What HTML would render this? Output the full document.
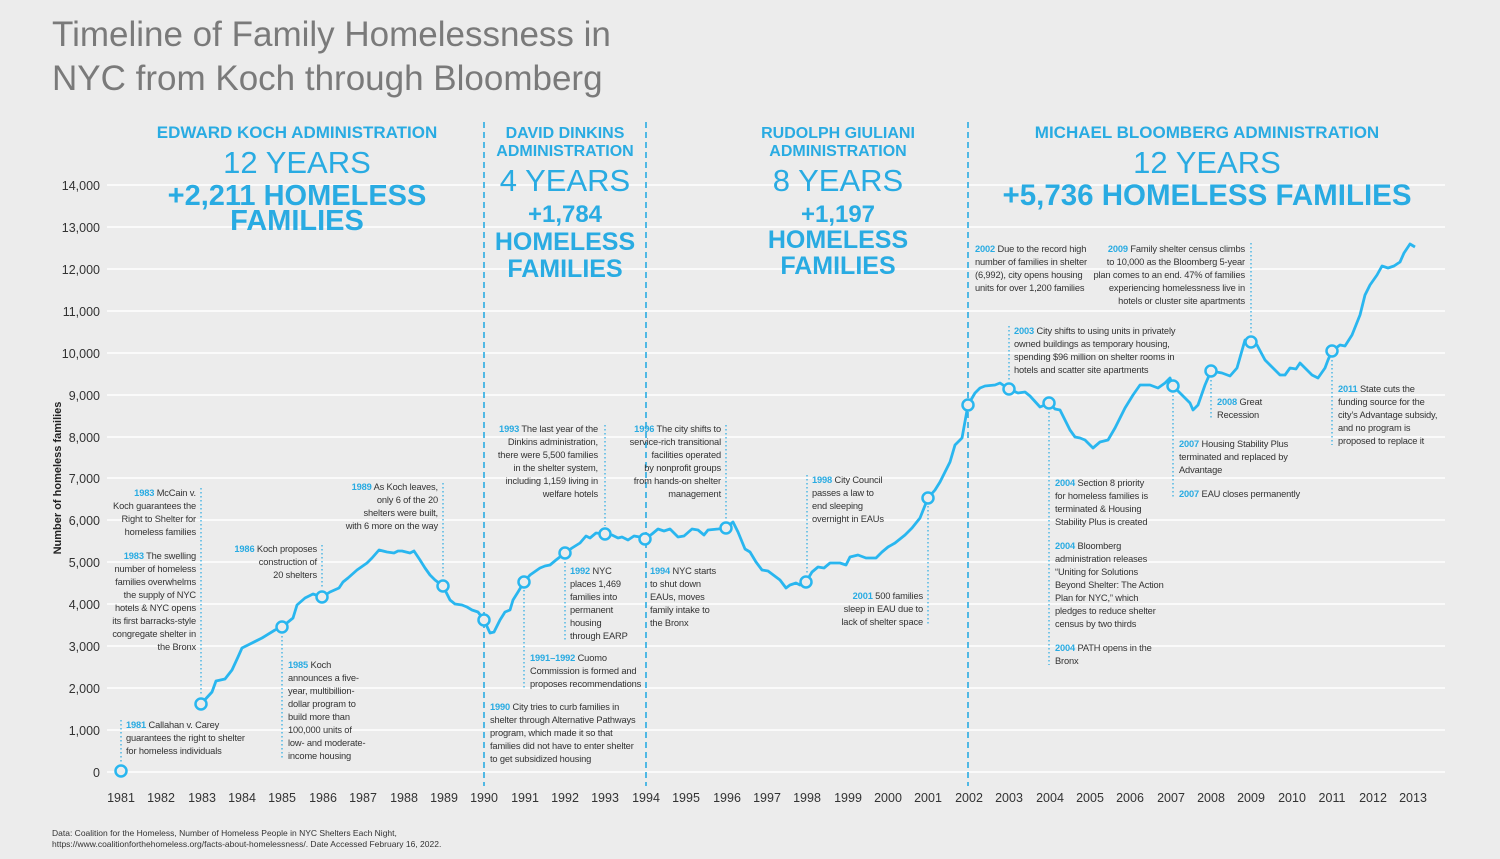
<!DOCTYPE html>
<html><head><meta charset="utf-8"><style>
body{margin:0;background:#ececec;}
svg{display:block;font-family:"Liberation Sans",sans-serif;}
.a{font-size:9.3px;letter-spacing:-0.15px;fill:#333;}
.a tspan.y{fill:#29abe2;font-weight:bold;}
.ax{font-size:12.5px;fill:#333;}
.h{fill:#29abe2;text-anchor:middle;}
.dot{stroke:#29abe2;stroke-width:1.2;stroke-dasharray:1.5 2.5;fill:none;}
.dash{stroke:#29abe2;stroke-width:1.6;stroke-dasharray:6 4;fill:none;}
</style></head><body>
<svg width="1500" height="859" viewBox="0 0 1500 859" xmlns="http://www.w3.org/2000/svg">
<rect width="1500" height="859" fill="#ececec"/>
<text x="52" y="46" font-size="35" fill="#7a7a7a">Timeline of Family Homelessness in</text>
<text x="52" y="90" font-size="35" fill="#7a7a7a">NYC from Koch through Bloomberg</text>

<g stroke="#fff" stroke-width="1.5">
<line x1="107" y1="772" x2="1445" y2="772"/><line x1="107" y1="730" x2="1445" y2="730"/><line x1="107" y1="688" x2="1445" y2="688"/><line x1="107" y1="646" x2="1445" y2="646"/><line x1="107" y1="604" x2="1445" y2="604"/><line x1="107" y1="562" x2="1445" y2="562"/><line x1="107" y1="520" x2="1445" y2="520"/><line x1="107" y1="478" x2="1445" y2="478"/><line x1="107" y1="437" x2="1445" y2="437"/><line x1="107" y1="395" x2="1445" y2="395"/><line x1="107" y1="353" x2="1445" y2="353"/><line x1="107" y1="311" x2="1445" y2="311"/><line x1="107" y1="269" x2="1445" y2="269"/><line x1="107" y1="227" x2="1445" y2="227"/><line x1="107" y1="185" x2="1445" y2="185"/>
</g>
<g class="ax" text-anchor="end">
<text x="100" y="777">0</text><text x="100" y="735">1,000</text><text x="100" y="693">2,000</text><text x="100" y="651">3,000</text><text x="100" y="609">4,000</text><text x="100" y="567">5,000</text><text x="100" y="525">6,000</text><text x="100" y="483">7,000</text><text x="100" y="442">8,000</text><text x="100" y="400">9,000</text><text x="100" y="358">10,000</text><text x="100" y="316">11,000</text><text x="100" y="274">12,000</text><text x="100" y="232">13,000</text><text x="100" y="190">14,000</text>
</g>
<text transform="translate(61,478) rotate(-90)" font-size="11" font-weight="bold" fill="#222" text-anchor="middle">Number of homeless families</text>
<g class="ax" text-anchor="middle">
<text x="121" y="802">1981</text><text x="161" y="802">1982</text><text x="202" y="802">1983</text><text x="242" y="802">1984</text><text x="282" y="802">1985</text><text x="323" y="802">1986</text><text x="363" y="802">1987</text><text x="404" y="802">1988</text><text x="444" y="802">1989</text><text x="484" y="802">1990</text><text x="525" y="802">1991</text><text x="565" y="802">1992</text><text x="605" y="802">1993</text><text x="646" y="802">1994</text><text x="686" y="802">1995</text><text x="727" y="802">1996</text><text x="767" y="802">1997</text><text x="807" y="802">1998</text><text x="848" y="802">1999</text><text x="888" y="802">2000</text><text x="928" y="802">2001</text><text x="969" y="802">2002</text><text x="1009" y="802">2003</text><text x="1050" y="802">2004</text><text x="1090" y="802">2005</text><text x="1130" y="802">2006</text><text x="1171" y="802">2007</text><text x="1211" y="802">2008</text><text x="1251" y="802">2009</text><text x="1292" y="802">2010</text><text x="1332" y="802">2011</text><text x="1373" y="802">2012</text><text x="1413" y="802">2013</text>
</g>

<line class="dash" x1="484" y1="122" x2="484" y2="786"/>
<line class="dash" x1="646" y1="122" x2="646" y2="786"/>
<line class="dash" x1="968" y1="122" x2="968" y2="786"/>

<g class="h">
<text x="297" y="138" font-size="17" font-weight="bold">EDWARD KOCH ADMINISTRATION</text>
<text x="297" y="173" font-size="31">12 YEARS</text>
<text x="297" y="205" font-size="29" font-weight="bold">+2,211 HOMELESS</text>
<text x="297" y="230" font-size="29" font-weight="bold">FAMILIES</text>
<text x="565" y="138" font-size="16" font-weight="bold">DAVID DINKINS</text>
<text x="565" y="156" font-size="16" font-weight="bold">ADMINISTRATION</text>
<text x="565" y="191" font-size="31">4 YEARS</text>
<text x="565" y="222" font-size="24" font-weight="bold">+1,784</text>
<text x="565" y="250" font-size="25" font-weight="bold">HOMELESS</text>
<text x="565" y="277" font-size="25" font-weight="bold">FAMILIES</text>
<text x="838" y="138" font-size="16" font-weight="bold">RUDOLPH GIULIANI</text>
<text x="838" y="156" font-size="16" font-weight="bold">ADMINISTRATION</text>
<text x="838" y="191" font-size="31">8 YEARS</text>
<text x="838" y="222" font-size="24" font-weight="bold">+1,197</text>
<text x="838" y="248" font-size="25" font-weight="bold">HOMELESS</text>
<text x="838" y="274" font-size="25" font-weight="bold">FAMILIES</text>
<text x="1207" y="138" font-size="17" font-weight="bold">MICHAEL BLOOMBERG ADMINISTRATION</text>
<text x="1207" y="173" font-size="31">12 YEARS</text>
<text x="1207" y="205" font-size="29.5" font-weight="bold">+5,736 HOMELESS FAMILIES</text>
</g>

<g class="dot">
<line x1="121" y1="720" x2="121" y2="762"/>
<line x1="201" y1="488" x2="201" y2="696"/>
<line x1="282" y1="636" x2="282" y2="760"/>
<line x1="322" y1="545" x2="322" y2="589"/>
<line x1="443" y1="483" x2="443" y2="578"/>
<line x1="524" y1="590" x2="524" y2="690"/>
<line x1="565" y1="562" x2="565" y2="640"/>
<line x1="605" y1="425" x2="605" y2="526"/>
<line x1="726" y1="425" x2="726" y2="520"/>
<line x1="807" y1="475" x2="807" y2="575"/>
<line x1="928" y1="506" x2="928" y2="625"/>
<line x1="1251" y1="243" x2="1251" y2="334"/>
<line x1="1009" y1="326" x2="1009" y2="381"/>
<line x1="1049" y1="412" x2="1049" y2="665"/>
<line x1="1173" y1="395" x2="1173" y2="497"/>
<line x1="1211" y1="380" x2="1211" y2="420"/>
<line x1="1332" y1="360" x2="1332" y2="445"/>
</g>

<polyline fill="none" stroke="#29b6ef" stroke-width="2.8" stroke-linejoin="round" points="201,704 212,692 216,681 225,679 232,670 238,657 242,648 250,644 262,638 275,630 282,627 293,618 297,605 305,598 313,594 322,597 330,592 339,588 343,582 348,578 357,570 367,563 372,558 379,550 387,552 394,553 398,551 402,551 410,553 414,551 420,560 425,568 430,575 435,580 443,586 450,600 455,604 462,605 467,607 472,610 478,612 484,620 490,633 494,632 500,620 505,612 510,610 513,600 518,592 524,582 530,575 540,568 545,566 550,565 556,560 565,553 572,548 580,543 586,536 590,538 596,533 605,534 612,535 618,538 622,537 628,540 634,536 640,537 645,539 652,534 658,529 664,531 670,529 678,537 684,536 692,529 698,530 704,535 708,530 718,529 726,528 733,522 738,532 745,549 750,552 756,562 762,570 768,571 780,580 786,588 790,585 796,583 800,585 806,582 812,572 818,567 824,568 830,563 840,563 846,565 850,557 858,555 866,558 876,558 882,552 888,547 895,543 905,535 912,528 920,518 928,498 935,490 940,482 945,472 950,462 955,445 962,438 968,405 975,393 980,388 985,386 995,385 1000,383 1009,389 1018,393 1025,392 1030,396 1040,407 1045,405 1049,403 1055,409 1060,410 1070,430 1075,437 1080,438 1085,440 1093,448 1100,442 1108,440 1115,428 1125,408 1133,395 1140,385 1150,385 1158,388 1165,383 1170,378 1173,386 1180,393 1190,403 1193,410 1198,405 1205,385 1211,371 1222,373 1230,376 1237,368 1245,340 1251,342 1257,345 1265,360 1272,367 1280,375 1285,375 1290,368 1296,369 1300,363 1305,368 1312,375 1318,378 1325,368 1328,360 1332,351 1340,345 1345,346 1352,335 1360,315 1365,295 1370,285 1377,275 1382,266 1388,268 1394,266 1400,262 1404,253 1410,244 1415,247"/>
<g fill="#ececec" stroke="#29b6ef" stroke-width="2.5">
<circle cx="121" cy="771" r="5.5"/><circle cx="201" cy="704" r="5.5"/><circle cx="282" cy="627" r="5.5"/><circle cx="322" cy="597" r="5.5"/><circle cx="443" cy="586" r="5.5"/><circle cx="484" cy="620" r="5.5"/><circle cx="524" cy="582" r="5.5"/><circle cx="565" cy="553" r="5.5"/><circle cx="605" cy="534" r="5.5"/><circle cx="645" cy="539" r="5.5"/><circle cx="726" cy="528" r="5.5"/><circle cx="806" cy="582" r="5.5"/><circle cx="928" cy="498" r="5.5"/><circle cx="968" cy="405" r="5.5"/><circle cx="1009" cy="389" r="5.5"/><circle cx="1049" cy="403" r="5.5"/><circle cx="1173" cy="386" r="5.5"/><circle cx="1211" cy="371" r="5.5"/><circle cx="1251" cy="342" r="5.5"/><circle cx="1332" cy="351" r="5.5"/>
</g>

<text class="a" x="126" y="728"><tspan class="y">1981</tspan> Callahan v. Carey<tspan x="126" dy="13">guarantees the right to shelter</tspan><tspan x="126" dy="13">for homeless individuals</tspan></text>
<text class="a" text-anchor="end" x="196" y="496"><tspan class="y">1983</tspan> McCain v.<tspan x="196" dy="13">Koch guarantees the</tspan><tspan x="196" dy="13">Right to Shelter for</tspan><tspan x="196" dy="13">homeless families</tspan></text>
<text class="a" text-anchor="end" x="196" y="559"><tspan class="y">1983</tspan> The swelling<tspan x="196" dy="13">number of homeless</tspan><tspan x="196" dy="13">families overwhelms</tspan><tspan x="196" dy="13">the supply of NYC</tspan><tspan x="196" dy="13">hotels &amp; NYC opens</tspan><tspan x="196" dy="13">its first barracks-style</tspan><tspan x="196" dy="13">congregate shelter in</tspan><tspan x="196" dy="13">the Bronx</tspan></text>
<text class="a" x="288" y="668"><tspan class="y">1985</tspan> Koch<tspan x="288" dy="13">announces a five-</tspan><tspan x="288" dy="13">year, multibillion-</tspan><tspan x="288" dy="13">dollar program to</tspan><tspan x="288" dy="13">build more than</tspan><tspan x="288" dy="13">100,000 units of</tspan><tspan x="288" dy="13">low- and moderate-</tspan><tspan x="288" dy="13">income housing</tspan></text>
<text class="a" text-anchor="end" x="317" y="552"><tspan class="y">1986</tspan> Koch proposes<tspan x="317" dy="13">construction of</tspan><tspan x="317" dy="13">20 shelters</tspan></text>
<text class="a" text-anchor="end" x="438" y="490"><tspan class="y">1989</tspan> As Koch leaves,<tspan x="438" dy="13">only 6 of the 20</tspan><tspan x="438" dy="13">shelters were built,</tspan><tspan x="438" dy="13">with 6 more on the way</tspan></text>
<text class="a" x="490" y="710"><tspan class="y">1990</tspan> City tries to curb families in<tspan x="490" dy="13">shelter through Alternative Pathways</tspan><tspan x="490" dy="13">program, which made it so that</tspan><tspan x="490" dy="13">families did not have to enter shelter</tspan><tspan x="490" dy="13">to get subsidized housing</tspan></text>
<text class="a" x="530" y="661"><tspan class="y">1991–1992</tspan> Cuomo<tspan x="530" dy="13">Commission is formed and</tspan><tspan x="530" dy="13">proposes recommendations</tspan></text>
<text class="a" x="570" y="574"><tspan class="y">1992</tspan> NYC<tspan x="570" dy="13">places 1,469</tspan><tspan x="570" dy="13">families into</tspan><tspan x="570" dy="13">permanent</tspan><tspan x="570" dy="13">housing</tspan><tspan x="570" dy="13">through EARP</tspan></text>
<text class="a" text-anchor="end" x="598" y="432"><tspan class="y">1993</tspan> The last year of the<tspan x="598" dy="13">Dinkins administration,</tspan><tspan x="598" dy="13">there were 5,500 families</tspan><tspan x="598" dy="13">in the shelter system,</tspan><tspan x="598" dy="13">including 1,159 living in</tspan><tspan x="598" dy="13">welfare hotels</tspan></text>
<text class="a" x="650" y="574"><tspan class="y">1994</tspan> NYC starts<tspan x="650" dy="13">to shut down</tspan><tspan x="650" dy="13">EAUs, moves</tspan><tspan x="650" dy="13">family intake to</tspan><tspan x="650" dy="13">the Bronx</tspan></text>
<text class="a" text-anchor="end" x="721" y="432"><tspan class="y">1996</tspan> The city shifts to<tspan x="721" dy="13">service-rich transitional</tspan><tspan x="721" dy="13">facilities operated</tspan><tspan x="721" dy="13">by nonprofit groups</tspan><tspan x="721" dy="13">from hands-on shelter</tspan><tspan x="721" dy="13">management</tspan></text>
<text class="a" x="812" y="483"><tspan class="y">1998</tspan> City Council<tspan x="812" dy="13">passes a law to</tspan><tspan x="812" dy="13">end sleeping</tspan><tspan x="812" dy="13">overnight in EAUs</tspan></text>
<text class="a" text-anchor="end" x="923" y="599"><tspan class="y">2001</tspan> 500 families<tspan x="923" dy="13">sleep in EAU due to</tspan><tspan x="923" dy="13">lack of shelter space</tspan></text>
<text class="a" x="975" y="252"><tspan class="y">2002</tspan> Due to the record high<tspan x="975" dy="13">number of families in shelter</tspan><tspan x="975" dy="13">(6,992), city opens housing</tspan><tspan x="975" dy="13">units for over 1,200 families</tspan></text>
<text class="a" text-anchor="end" x="1245" y="252"><tspan class="y">2009</tspan> Family shelter census climbs<tspan x="1245" dy="13">to 10,000 as the Bloomberg 5-year</tspan><tspan x="1245" dy="13">plan comes to an end. 47% of families</tspan><tspan x="1245" dy="13">experiencing homelessness live in</tspan><tspan x="1245" dy="13">hotels or cluster site apartments</tspan></text>
<text class="a" x="1014" y="334"><tspan class="y">2003</tspan> City shifts to using units in privately<tspan x="1014" dy="13">owned buildings as temporary housing,</tspan><tspan x="1014" dy="13">spending $96 million on shelter rooms in</tspan><tspan x="1014" dy="13">hotels and scatter site apartments</tspan></text>
<text class="a" x="1055" y="486"><tspan class="y">2004</tspan> Section 8 priority<tspan x="1055" dy="13">for homeless families is</tspan><tspan x="1055" dy="13">terminated &amp; Housing</tspan><tspan x="1055" dy="13">Stability Plus is created</tspan></text>
<text class="a" x="1055" y="549"><tspan class="y">2004</tspan> Bloomberg<tspan x="1055" dy="13">administration releases</tspan><tspan x="1055" dy="13">“Uniting for Solutions</tspan><tspan x="1055" dy="13">Beyond Shelter: The Action</tspan><tspan x="1055" dy="13">Plan for NYC,” which</tspan><tspan x="1055" dy="13">pledges to reduce shelter</tspan><tspan x="1055" dy="13">census by two thirds</tspan></text>
<text class="a" x="1055" y="651"><tspan class="y">2004</tspan> PATH opens in the<tspan x="1055" dy="13">Bronx</tspan></text>
<text class="a" x="1179" y="447"><tspan class="y">2007</tspan> Housing Stability Plus<tspan x="1179" dy="13">terminated and replaced by</tspan><tspan x="1179" dy="13">Advantage</tspan></text>
<text class="a" x="1179" y="497"><tspan class="y">2007</tspan> EAU closes permanently</text>
<text class="a" x="1217" y="405"><tspan class="y">2008</tspan> Great<tspan x="1217" dy="13">Recession</tspan></text>
<text class="a" x="1338" y="392"><tspan class="y">2011</tspan> State cuts the<tspan x="1338" dy="13">funding source for the</tspan><tspan x="1338" dy="13">city’s Advantage subsidy,</tspan><tspan x="1338" dy="13">and no program is</tspan><tspan x="1338" dy="13">proposed to replace it</tspan></text>

<text x="52" y="836" font-size="8.5" fill="#333">Data: Coalition for the Homeless, Number of Homeless People in NYC Shelters Each Night,</text>
<text x="52" y="847" font-size="8.5" fill="#333">https://www.coalitionforthehomeless.org/facts-about-homelessness/. Date Accessed February 16, 2022.</text>
</svg>
</body></html>
